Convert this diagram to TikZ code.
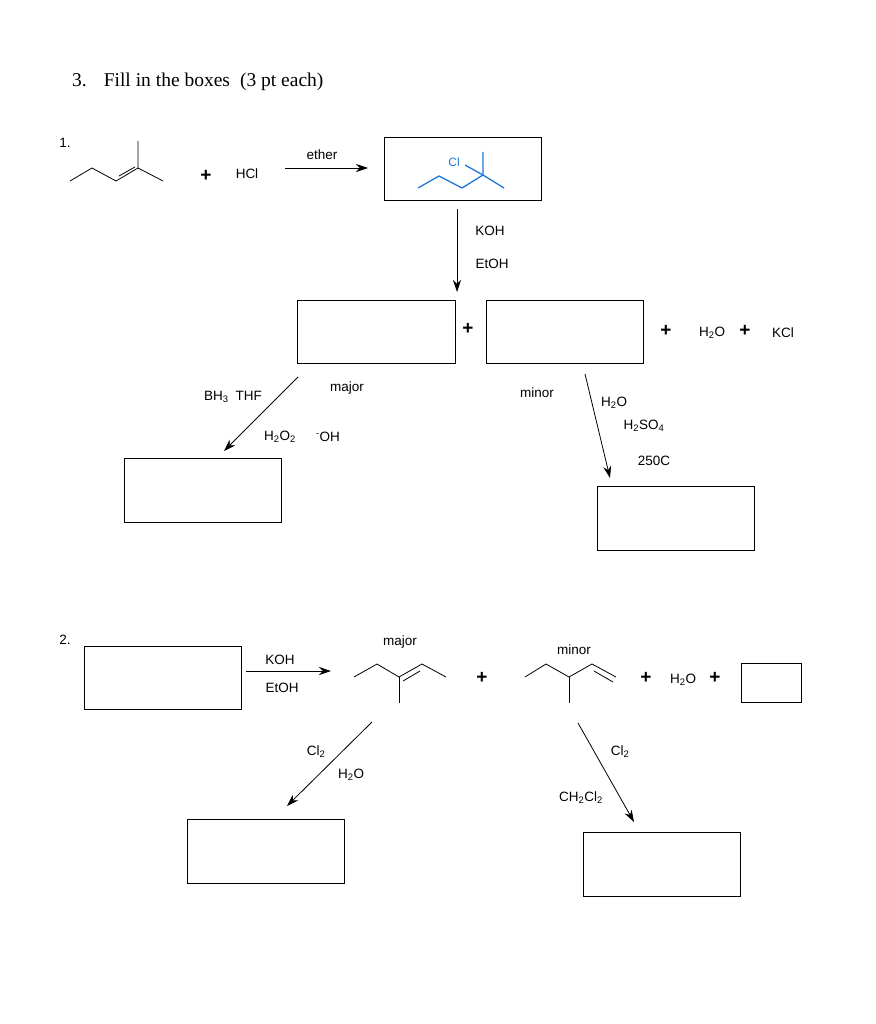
\documentclass[tikz,border=0pt]{standalone}
\usepackage{fontspec}
\setmainfont{Liberation Sans}
\newfontfamily\serifx{Liberation Serif}
\usetikzlibrary{arrows.meta}
\begin{document}
\begin{tikzpicture}[x=1pt,y=-1pt,
  box/.style={draw,line width=0.8pt},
  arr/.style={-{Stealth[length=12pt,width=8pt]},line width=0.8pt},
  bond/.style={line width=0.8pt},
  lbl/.style={font=\fontsize{13.5}{15}\selectfont,inner sep=0pt},
  pl/.style={font=\fontsize{19}{19}\selectfont\bfseries,inner sep=0pt}]
\useasboundingbox[fill=white] (0,0) rectangle (875,1024);
\node[anchor=west,inner sep=0pt,font=\serifx\fontsize{19.5}{21}\selectfont] (title) at (72,82) {3.\hspace{17pt}Fill in the boxes\hspace{10pt}(3 pt each)};
% section 1
\node[lbl] (n1) at (65,143) {1.};
\draw[bond] (70,181)--(92,168)--(116,181)--(138,168)--(138,141);
\draw[bond] (138,168)--(163,181);
\draw[bond] (119,176)--(135,167);
\node[pl] (p1) at (206,176) {+};
\node[lbl] (hcl) at (247,174) {HCl};
\coordinate (a1s) at (285,168); \coordinate (a1e) at (368,168);
\draw[arr] (a1s)--(a1e);
\node[lbl] (ether) at (322,155) {ether};
\node[box,minimum width=157pt,minimum height=63pt,anchor=north west] (b1) at (384,137) {};
\begin{scope}[draw={rgb,255:red,30;green,120;blue,220},line width=1.3pt]
\draw (418,188)--(439,176)--(462,188)--(483,175)--(483,152);
\draw (483,175)--(504,188);
\draw (465,165)--(483,175);
\end{scope}
\node[lbl,text={rgb,255:red,30;green,120;blue,220},font=\fontsize{12}{13}\selectfont] (cl) at (454,162) {Cl};
\draw[arr] (b1.south-|457,0) ++(0,8) coordinate (a2s) -- (457,292) coordinate (a2e);
\node[lbl] (koh1) at (490,231) {KOH};
\node[lbl] (etoh1) at (492,264) {EtOH};
\node[box,minimum width=158pt,minimum height=63pt,anchor=north west] (b2) at (297,300) {};
\node[pl] (p2) at (468,329) {+};
\node[box,minimum width=157pt,minimum height=63pt,anchor=north west] (b3) at (486,300) {};
\node[pl] (p3) at (666,331) {+};
\node[lbl] (h2o1) at (712,333) {H\textsubscript{2}O};
\node[pl] (p4) at (745,331) {+};
\node[lbl] (kcl) at (783,333) {KCl};
\node[lbl] (bh3) at (233,397) {BH\textsubscript{3}\hspace{7pt}THF};
\node[lbl] (major1) at (347,388) {major};
\node[lbl] (h2o2) at (280,437) {H\textsubscript{2}O\textsubscript{2}};
\node[lbl] (oh) at (328,437) {\textsuperscript{-}OH};
\draw[arr] (298,377) coordinate (a3s) -- (224,451) coordinate (a3e);
\node[box,minimum width=157pt,minimum height=64pt,anchor=north west] (b4) at (124,458) {};
\node[lbl] (minor1) at (537,393) {minor};
\draw[arr] (585,374) coordinate (a4s) -- (610,478) coordinate (a4e);
\node[lbl] (h2o3) at (614,403) {H\textsubscript{2}O};
\node[lbl] (h2so4) at (644,426) {H\textsubscript{2}SO\textsubscript{4}};
\node[lbl] (t250) at (654,461) {250C};
\node[box,minimum width=157pt,minimum height=64pt,anchor=north west] (b5) at (597,486) {};
% section 2
\node[lbl] (n2) at (65,640) {2.};
\node[box,minimum width=157pt,minimum height=63pt,anchor=north west] (b6) at (84,646) {};
\draw[arr] (246,671) coordinate (a5s) -- (331,671) coordinate (a5e);
\node[lbl] (koh2) at (280,660) {KOH};
\node[lbl] (etoh2) at (282,688) {EtOH};
\node[lbl] (major2) at (400,642) {major};
\draw[bond] (354,677)--(377,664)--(399,677)--(422,664)--(446,677);
\draw[bond] (399,677)--(399,703);
\draw[bond] (403,681)--(420,671);
\node[pl] (p5) at (482,678) {+};
\node[lbl] (minor2) at (574,650) {minor};
\draw[bond] (525,677)--(546,664)--(569,677)--(592,664)--(616,677);
\draw[bond] (569,677)--(569,703);
\draw[bond] (594,671)--(613,682);
\node[pl] (p6) at (646,678) {+};
\node[lbl] (h2o4) at (683,680) {H\textsubscript{2}O};
\node[pl] (p7) at (715,678) {+};
\node[box,minimum width=60pt,minimum height=39pt,anchor=north west] (b9) at (741,663) {};
\draw[arr] (372,722) coordinate (a6s) -- (287,806) coordinate (a6e);
\node[lbl] (cl2a) at (316,752) {Cl\textsubscript{2}};
\node[lbl] (h2o5) at (351,775) {H\textsubscript{2}O};
\node[box,minimum width=157pt,minimum height=64pt,anchor=north west] (b7) at (187,819) {};
\draw[arr] (578,723) coordinate (a7s) -- (634,822) coordinate (a7e);
\node[lbl] (cl2b) at (620,752) {Cl\textsubscript{2}};
\node[lbl] (ch2cl2) at (581,798) {CH\textsubscript{2}Cl\textsubscript{2}};
\node[box,minimum width=157pt,minimum height=64pt,anchor=north west] (b8) at (583,832) {};
\end{tikzpicture}
\end{document}
